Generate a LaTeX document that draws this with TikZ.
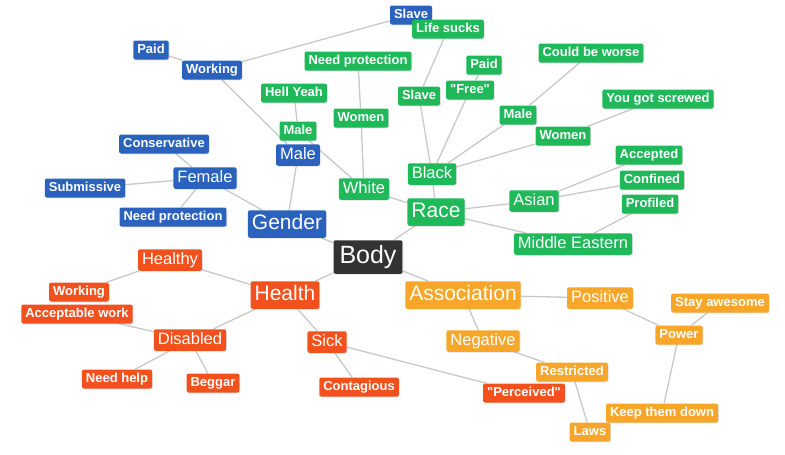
\documentclass[tikz,border=0pt]{standalone}
\usepackage{fontspec}
\setmainfont{Liberation Sans}[Ligatures=TeXOff]
\usepackage{tikz}
\usetikzlibrary{shadows,backgrounds}
\definecolor{gblue}{HTML}{2A62BE}
\definecolor{ggreen}{HTML}{20B95A}
\definecolor{gred}{HTML}{F2511D}
\definecolor{gorange}{HTML}{F7A62A}
\definecolor{gdark}{HTML}{333333}
\definecolor{linegray}{HTML}{C8C8C8}

\begin{document}
\begin{tikzpicture}[x=1pt, y=-1pt,
  box/.style={rectangle, rounded corners=2pt, text=white, inner xsep=4pt,
    drop shadow={shadow xshift=0.8pt, shadow yshift=-0.8pt, opacity=0.25}},
  leaf/.style={box, font=\bfseries\fontsize{13}{15}\selectfont, text height=9.5pt, text depth=2.5pt, inner ysep=3.5pt},
  mid/.style={box, font=\fontsize{16.5}{18}\selectfont, text height=12pt, text depth=3.5pt, inner ysep=3pt},
  top/.style={box, font=\fontsize{21}{24}\selectfont, text height=15pt, text depth=4.5pt, inner ysep=4pt},
  root/.style={box, font=\fontsize{25}{28}\selectfont, text height=18pt, text depth=5.5pt, inner ysep=5pt, inner xsep=6pt},
  edge/.style={draw=linegray, line width=1.3pt}]

\useasboundingbox (0,0) rectangle (785,455);

%% centre and first ring
\path
(368,257) node[root, fill=gdark](body) {Body}
(287,224) node[top, fill=gblue](gender) {Gender}
(436,212) node[top, fill=ggreen](race) {Race}
(285,295) node[top, fill=gred](health) {Health}
(463,295) node[top, fill=gorange](assoc) {Association};

%% gender branch
\path
(298,155) node[mid, fill=gblue](gmale) {Male}
(205,178) node[mid, fill=gblue](female) {Female}
(212,70) node[leaf, fill=gblue](working) {Working}
(151,50) node[leaf, fill=gblue](bpaid) {Paid}
(411,15) node[leaf, fill=gblue](bslave) {Slave}
(164,144) node[leaf, fill=gblue](conserv) {Conservative}
(85,188) node[leaf, fill=gblue](submiss) {Submissive}
(173,217) node[leaf, fill=gblue](bneedprot) {Need protection};

%% race branch
\path
(364,189) node[mid, fill=ggreen](white) {White}
(298,131) node[leaf, fill=ggreen](wmale) {Male}
(294,93) node[leaf, fill=ggreen](hellyeah) {Hell Yeah}
(361,118) node[leaf, fill=ggreen](wwomen) {Women}
(358,61) node[leaf, fill=ggreen](wneedprot) {Need protection}
(432,174) node[mid, fill=ggreen](black) {Black}
(419,96) node[leaf, fill=ggreen](bkslave) {Slave}
(448,29) node[leaf, fill=ggreen](lifesucks) {Life sucks}
(470,90) node[leaf, fill=ggreen](free) {"Free"}
(484,65) node[leaf, fill=ggreen](gpaid) {Paid}
(518,115) node[leaf, fill=ggreen](bkmale) {Male}
(591,53) node[leaf, fill=ggreen](worse) {Could be worse}
(563,136) node[leaf, fill=ggreen](bkwomen) {Women}
(658,99) node[leaf, fill=ggreen](screwed) {You got screwed}
(534,201) node[mid, fill=ggreen](asian) {Asian}
(649,155) node[leaf, fill=ggreen](accepted) {Accepted}
(652,180) node[leaf, fill=ggreen](confined) {Confined}
(573,244) node[mid, fill=ggreen](mideast) {Middle Eastern}
(650,204) node[leaf, fill=ggreen](profiled) {Profiled};

%% health branch
\path
(170,260) node[mid, fill=gred](healthy) {Healthy}
(79,292) node[leaf, fill=gred](rworking) {Working}
(190,340) node[mid, fill=gred](disabled) {Disabled}
(77,314) node[leaf, fill=gred](acceptable) {Acceptable work}
(117,379) node[leaf, fill=gred](needhelp) {Need help}
(213,383) node[leaf, fill=gred](beggar) {Beggar}
(327,342) node[mid, fill=gred](sick) {Sick}
(359,387) node[leaf, fill=gred](contagious) {Contagious}
(524,393) node[leaf, fill=gred](perceived) {"Perceived"};

%% association branch
\path
(600,298) node[mid, fill=gorange](positive) {Positive}
(679,335) node[leaf, fill=gorange](power) {Power}
(720,303) node[leaf, fill=gorange](awesome) {Stay awesome}
(662,413) node[leaf, fill=gorange](keepdown) {Keep them down}
(483,341) node[mid, fill=gorange](negative) {Negative}
(572,372) node[leaf, fill=gorange](restricted) {Restricted}
(590,432) node[leaf, fill=gorange](laws) {Laws};

%% connectors behind the boxes
\begin{scope}[on background layer]
\draw[edge] (body) -- (gender);
\draw[edge] (body) -- (race);
\draw[edge] (body) -- (health);
\draw[edge] (body) -- (assoc);

\draw[edge] (gender) -- (gmale);
\draw[edge] (gender) -- (female);
\draw[edge] (gmale) -- (working);
\draw[edge] (working) -- (bpaid);
\draw[edge] (working) -- (bslave);
\draw[edge] (female) -- (conserv);
\draw[edge] (female) -- (submiss);
\draw[edge] (female) -- (bneedprot);

\draw[edge] (race) -- (white);
\draw[edge] (white) -- (wmale);
\draw[edge] (wmale) -- (hellyeah);
\draw[edge] (white) -- (wwomen);
\draw[edge] (wwomen) -- (wneedprot);
\draw[edge] (race) -- (black);
\draw[edge] (black) -- (bkslave);
\draw[edge] (bkslave) -- (lifesucks);
\draw[edge] (black) -- (free);
\draw[edge] (free) -- (gpaid);
\draw[edge] (black) -- (bkmale);
\draw[edge] (bkmale) -- (worse);
\draw[edge] (black) -- (bkwomen);
\draw[edge] (bkwomen) -- (screwed);
\draw[edge] (race) -- (asian);
\draw[edge] (asian) -- (accepted);
\draw[edge] (asian) -- (confined);
\draw[edge] (race) -- (mideast);
\draw[edge] (mideast) -- (profiled);

\draw[edge] (health) -- (healthy);
\draw[edge] (healthy) -- (rworking);
\draw[edge] (health) -- (disabled);
\draw[edge] (disabled) -- (acceptable);
\draw[edge] (disabled) -- (needhelp);
\draw[edge] (disabled) -- (beggar);
\draw[edge] (health) -- (sick);
\draw[edge] (sick) -- (contagious);
\draw[edge] (sick) -- (perceived);

\draw[edge] (assoc) -- (positive);
\draw[edge] (positive) -- (power);
\draw[edge] (power) -- (awesome);
\draw[edge] (power) -- (keepdown);
\draw[edge] (assoc) -- (negative);
\draw[edge] (negative) -- (restricted);
\draw[edge] (restricted) -- (laws);
\end{scope}

\end{tikzpicture}
\end{document}
